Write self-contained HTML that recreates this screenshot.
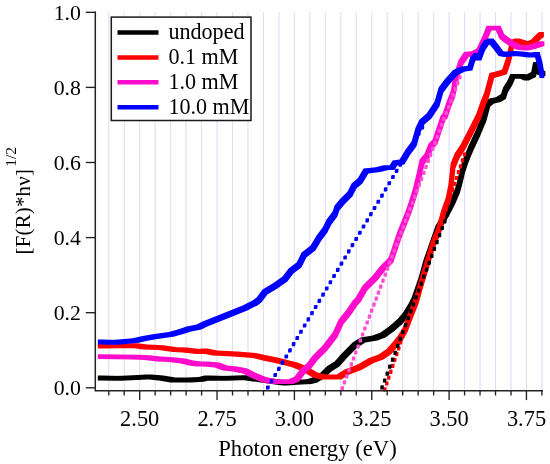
<!DOCTYPE html>
<html><head><meta charset="utf-8"><title>Tauc plot</title>
<style>
html,body{margin:0;padding:0;background:#fff;}
svg{display:block;}
text{font-family:"Liberation Serif",serif;fill:#000;}
.c{fill:none;stroke-linejoin:round;stroke-linecap:butt;stroke-width:4.9;}
.d{fill:none;stroke-width:3.4;stroke-dasharray:3.3 3.9;}
.ax{stroke:#222;stroke-width:1.5;fill:none;}
.tk{stroke:#222;stroke-width:1.35;fill:none;}
.g{stroke:#d4d4fa;stroke-width:1;stroke-dasharray:1 1;}
.g2{stroke:#e8e8fd;stroke-width:1;}
</style></head><body>
<svg width="550" height="464" viewBox="0 0 550 464">
<rect width="550" height="464" fill="#fff"/>
<g class="g2">
<line x1="108.76" y1="12" x2="108.76" y2="390"/>
<line x1="124.23" y1="12" x2="124.23" y2="390"/>
<line x1="139.70" y1="12" x2="139.70" y2="390"/>
<line x1="155.17" y1="12" x2="155.17" y2="390"/>
<line x1="170.64" y1="12" x2="170.64" y2="390"/>
<line x1="186.11" y1="12" x2="186.11" y2="390"/>
<line x1="201.58" y1="12" x2="201.58" y2="390"/>
<line x1="217.05" y1="12" x2="217.05" y2="390"/>
<line x1="232.52" y1="12" x2="232.52" y2="390"/>
<line x1="247.99" y1="12" x2="247.99" y2="390"/>
<line x1="263.46" y1="12" x2="263.46" y2="390"/>
<line x1="278.93" y1="12" x2="278.93" y2="390"/>
<line x1="294.40" y1="12" x2="294.40" y2="390"/>
<line x1="309.87" y1="12" x2="309.87" y2="390"/>
<line x1="325.34" y1="12" x2="325.34" y2="390"/>
<line x1="340.81" y1="12" x2="340.81" y2="390"/>
<line x1="356.28" y1="12" x2="356.28" y2="390"/>
<line x1="371.75" y1="12" x2="371.75" y2="390"/>
<line x1="387.22" y1="12" x2="387.22" y2="390"/>
<line x1="402.69" y1="12" x2="402.69" y2="390"/>
<line x1="418.16" y1="12" x2="418.16" y2="390"/>
<line x1="433.63" y1="12" x2="433.63" y2="390"/>
<line x1="449.10" y1="12" x2="449.10" y2="390"/>
<line x1="464.57" y1="12" x2="464.57" y2="390"/>
<line x1="480.04" y1="12" x2="480.04" y2="390"/>
<line x1="495.51" y1="12" x2="495.51" y2="390"/>
<line x1="510.98" y1="12" x2="510.98" y2="390"/>
<line x1="526.45" y1="12" x2="526.45" y2="390"/>
<line x1="541.92" y1="12" x2="541.92" y2="390"/>
</g>
<g class="g">
<line x1="108.76" y1="12" x2="108.76" y2="390"/>
<line x1="124.23" y1="12" x2="124.23" y2="390"/>
<line x1="139.70" y1="12" x2="139.70" y2="390"/>
<line x1="155.17" y1="12" x2="155.17" y2="390"/>
<line x1="170.64" y1="12" x2="170.64" y2="390"/>
<line x1="186.11" y1="12" x2="186.11" y2="390"/>
<line x1="201.58" y1="12" x2="201.58" y2="390"/>
<line x1="217.05" y1="12" x2="217.05" y2="390"/>
<line x1="232.52" y1="12" x2="232.52" y2="390"/>
<line x1="247.99" y1="12" x2="247.99" y2="390"/>
<line x1="263.46" y1="12" x2="263.46" y2="390"/>
<line x1="278.93" y1="12" x2="278.93" y2="390"/>
<line x1="294.40" y1="12" x2="294.40" y2="390"/>
<line x1="309.87" y1="12" x2="309.87" y2="390"/>
<line x1="325.34" y1="12" x2="325.34" y2="390"/>
<line x1="340.81" y1="12" x2="340.81" y2="390"/>
<line x1="356.28" y1="12" x2="356.28" y2="390"/>
<line x1="371.75" y1="12" x2="371.75" y2="390"/>
<line x1="387.22" y1="12" x2="387.22" y2="390"/>
<line x1="402.69" y1="12" x2="402.69" y2="390"/>
<line x1="418.16" y1="12" x2="418.16" y2="390"/>
<line x1="433.63" y1="12" x2="433.63" y2="390"/>
<line x1="449.10" y1="12" x2="449.10" y2="390"/>
<line x1="464.57" y1="12" x2="464.57" y2="390"/>
<line x1="480.04" y1="12" x2="480.04" y2="390"/>
<line x1="495.51" y1="12" x2="495.51" y2="390"/>
<line x1="510.98" y1="12" x2="510.98" y2="390"/>
<line x1="526.45" y1="12" x2="526.45" y2="390"/>
<line x1="541.92" y1="12" x2="541.92" y2="390"/>
</g>
<path fill="#000" d="M97.8 375.6L102.6 375.6L121.4 376.0L121.4 380.8L116.6 380.8L97.8 380.4ZM116.6 376.0L132.6 375.2L137.4 375.2L137.4 380.0L121.4 380.8L116.6 380.8ZM132.6 375.2L146.6 374.4L151.4 374.4L151.4 379.2L137.4 380.0L132.6 380.0ZM146.6 374.4L151.4 374.4L163.4 375.6L163.4 380.4L158.6 380.4L146.6 379.2ZM158.6 375.6L163.4 375.6L175.4 377.6L175.4 382.4L170.6 382.4L158.6 380.4ZM170.6 377.6L191.4 377.6L191.4 382.4L170.6 382.4ZM186.6 377.6L198.6 377.0L203.4 377.0L203.4 381.8L191.4 382.4L186.6 382.4ZM198.6 377.0L204.6 375.6L209.4 375.6L209.4 380.4L203.4 381.8L198.6 381.8ZM204.6 375.6L209.4 375.6L227.4 376.0L227.4 380.8L222.6 380.8L204.6 380.4ZM222.6 376.0L242.6 375.2L247.4 375.2L247.4 380.0L227.4 380.8L222.6 380.8ZM242.6 375.2L247.4 375.2L257.4 376.6L257.4 381.4L252.6 381.4L242.6 380.0ZM252.6 376.6L257.4 376.6L272.4 378.6L272.4 383.4L267.6 383.4L252.6 381.4ZM267.6 378.6L272.4 378.6L287.4 380.6L287.4 385.4L282.6 385.4L267.6 383.4ZM282.6 380.6L292.6 380.0L297.4 380.0L297.4 384.8L287.4 385.4L282.6 385.4ZM292.6 380.0L306.6 379.2L311.4 379.2L311.4 384.0L297.4 384.8L292.6 384.8ZM306.6 379.2L312.6 377.6L317.4 377.6L317.4 382.4L311.4 384.0L306.6 384.0ZM312.6 377.6L320.6 372.6L325.4 372.6L325.4 377.4L317.4 382.4L312.6 382.4ZM320.6 372.6L326.6 366.6L331.4 366.6L331.4 371.4L325.4 377.4L320.6 377.4ZM326.6 366.6L334.6 361.6L339.4 361.6L339.4 366.4L331.4 371.4L326.6 371.4ZM334.6 361.6L342.6 352.6L347.4 352.6L347.4 357.4L339.4 366.4L334.6 366.4ZM342.6 352.6L352.6 342.6L357.4 342.6L357.4 347.4L347.4 357.4L342.6 357.4ZM352.6 342.6L360.6 337.6L365.4 337.6L365.4 342.4L357.4 347.4L352.6 347.4ZM360.6 337.6L372.6 335.6L377.4 335.6L377.4 340.4L365.4 342.4L360.6 342.4ZM372.6 335.6L380.6 332.6L385.4 332.6L385.4 337.4L377.4 340.4L372.6 340.4ZM380.6 332.6L389.6 326.1L394.4 326.1L394.4 330.9L385.4 337.4L380.6 337.4ZM389.6 326.1L397.6 319.1L402.4 319.1L402.4 323.9L394.4 330.9L389.6 330.9ZM397.6 319.1L403.1 312.6L407.9 312.6L407.9 317.4L402.4 323.9L397.6 323.9ZM403.1 312.6L408.6 303.6L413.4 303.6L413.4 308.4L407.9 317.4L403.1 317.4ZM408.6 303.6L411.6 297.6L416.4 297.6L416.4 302.4L413.4 308.4L408.6 308.4ZM411.6 297.6L418.6 277.6L423.4 277.6L423.4 282.4L416.4 302.4L411.6 302.4ZM418.6 277.6L423.6 259.6L428.4 259.6L428.4 264.4L423.4 282.4L418.6 282.4ZM423.6 259.6L429.6 242.6L434.4 242.6L434.4 247.4L428.4 264.4L423.6 264.4ZM429.6 242.6L435.6 225.6L440.4 225.6L440.4 230.4L434.4 247.4L429.6 247.4ZM435.6 225.6L441.6 215.6L446.4 215.6L446.4 220.4L440.4 230.4L435.6 230.4ZM441.6 215.6L447.1 205.6L451.9 205.6L451.9 210.4L446.4 220.4L441.6 220.4ZM447.1 205.6L450.6 198.6L455.4 198.6L455.4 203.4L451.9 210.4L447.1 210.4ZM450.6 198.6L455.1 188.3L459.9 188.3L459.9 193.1L455.4 203.4L450.6 203.4ZM455.1 188.3L457.9 177.9L462.7 177.9L462.7 182.7L459.9 193.1L455.1 193.1ZM457.9 177.9L460.3 167.6L465.1 167.6L465.1 172.4L462.7 182.7L457.9 182.7ZM460.3 167.6L463.6 157.6L468.4 157.6L468.4 162.4L465.1 172.4L460.3 172.4ZM463.6 157.6L468.6 145.6L473.4 145.6L473.4 150.4L468.4 162.4L463.6 162.4ZM468.6 145.6L475.1 131.6L479.9 131.6L479.9 136.4L473.4 150.4L468.6 150.4ZM475.1 131.6L481.6 116.1L486.4 116.1L486.4 120.9L479.9 136.4L475.1 136.4ZM481.6 116.1L485.5 101.8L490.3 101.8L490.3 106.6L486.4 120.9L481.6 120.9ZM485.5 101.8L489.3 98.6L494.1 98.6L494.1 103.4L490.3 106.6L485.5 106.6ZM489.3 98.6L495.8 97.3L500.6 97.3L500.6 102.1L494.1 103.4L489.3 103.4ZM495.8 97.3L501.0 94.1L505.8 94.1L505.8 98.9L500.6 102.1L495.8 102.1ZM501.0 94.1L503.1 87.6L507.9 87.6L507.9 92.4L505.8 98.9L501.0 98.9ZM503.1 87.6L507.6 80.3L512.4 80.3L512.4 85.1L507.9 92.4L503.1 92.4ZM507.6 80.3L510.3 74.0L515.1 74.0L515.1 78.8L512.4 85.1L507.6 85.1ZM510.3 74.0L525.1 74.0L525.1 78.8L510.3 78.8ZM520.3 74.0L525.1 74.0L528.8 75.8L528.8 80.6L524.0 80.6L520.3 78.8ZM524.0 75.8L531.2 72.1L536.0 72.1L536.0 76.9L528.8 80.6L524.0 80.6ZM531.2 72.1L533.1 62.1L537.9 62.1L537.9 66.9L536.0 76.9L531.2 76.9ZM533.1 62.1L537.9 62.1L541.4 69.4L541.4 74.2L536.6 74.2L533.1 66.9ZM536.6 69.4L541.4 69.4L545.4 71.2L545.4 76.0L540.6 76.0L536.6 74.2Z"/>
<path fill="#f00" d="M97.8 343.6L132.6 343.2L137.4 343.2L137.4 348.0L102.6 348.4L97.8 348.4ZM132.6 343.2L137.4 343.2L147.4 344.6L147.4 349.4L142.6 349.4L132.6 348.0ZM142.6 344.6L147.4 344.6L163.4 345.2L163.4 350.0L158.6 350.0L142.6 349.4ZM158.6 345.2L163.4 345.2L177.4 347.2L177.4 352.0L172.6 352.0L158.6 350.0ZM172.6 347.2L177.4 347.2L187.4 347.6L187.4 352.4L182.6 352.4L172.6 352.0ZM182.6 347.6L187.4 347.6L201.4 349.2L201.4 354.0L196.6 354.0L182.6 352.4ZM196.6 349.2L202.6 348.6L207.4 348.6L207.4 353.4L201.4 354.0L196.6 354.0ZM202.6 348.6L207.4 348.6L217.4 350.6L217.4 355.4L212.6 355.4L202.6 353.4ZM212.6 350.6L217.4 350.6L237.4 351.6L237.4 356.4L232.6 356.4L212.6 355.4ZM232.6 351.6L237.4 351.6L257.4 353.2L257.4 358.0L252.6 358.0L232.6 356.4ZM252.6 353.2L257.4 353.2L267.4 355.6L267.4 360.4L262.6 360.4L252.6 358.0ZM262.6 355.6L267.4 355.6L277.4 357.6L277.4 362.4L272.6 362.4L262.6 360.4ZM272.6 357.6L277.4 357.6L287.4 360.0L287.4 364.8L282.6 364.8L272.6 362.4ZM282.6 360.0L287.4 360.0L297.4 362.6L297.4 367.4L292.6 367.4L282.6 364.8ZM292.6 362.6L297.4 362.6L307.4 366.6L307.4 371.4L302.6 371.4L292.6 367.4ZM302.6 366.6L307.4 366.6L317.4 372.6L317.4 377.4L312.6 377.4L302.6 371.4ZM312.6 372.6L317.4 372.6L325.4 374.6L325.4 379.4L320.6 379.4L312.6 377.4ZM320.6 374.6L341.4 374.6L341.4 379.4L320.6 379.4ZM336.6 374.6L344.6 369.6L349.4 369.6L349.4 374.4L341.4 379.4L336.6 379.4ZM344.6 369.6L352.6 366.6L357.4 366.6L357.4 371.4L349.4 374.4L344.6 374.4ZM352.6 366.6L357.6 364.6L362.4 364.6L362.4 369.4L357.4 371.4L352.6 371.4ZM357.6 364.6L368.9 358.1L373.7 358.1L373.7 362.9L362.4 369.4L357.6 369.4ZM368.9 358.1L378.6 354.6L383.4 354.6L383.4 359.4L373.7 362.9L368.9 362.9ZM378.6 354.6L386.6 349.1L391.4 349.1L391.4 353.9L383.4 359.4L378.6 359.4ZM386.6 349.1L392.3 342.6L397.1 342.6L397.1 347.4L391.4 353.9L386.6 353.9ZM392.3 342.6L398.0 335.6L402.8 335.6L402.8 340.4L397.1 347.4L392.3 347.4ZM398.0 335.6L402.8 327.3L407.6 327.3L407.6 332.1L402.8 340.4L398.0 340.4ZM402.8 327.3L406.1 318.1L410.9 318.1L410.9 322.9L407.6 332.1L402.8 332.1ZM406.1 318.1L411.1 305.6L415.9 305.6L415.9 310.4L410.9 322.9L406.1 322.9ZM411.1 305.6L414.1 297.6L418.9 297.6L418.9 302.4L415.9 310.4L411.1 310.4ZM414.1 297.6L418.6 281.6L423.4 281.6L423.4 286.4L418.9 302.4L414.1 302.4ZM418.6 281.6L424.6 261.6L429.4 261.6L429.4 266.4L423.4 286.4L418.6 286.4ZM424.6 261.6L430.6 241.6L435.4 241.6L435.4 246.4L429.4 266.4L424.6 266.4ZM430.6 241.6L436.6 227.1L441.4 227.1L441.4 231.9L435.4 246.4L430.6 246.4ZM436.6 227.1L441.2 210.3L446.0 210.3L446.0 215.1L441.4 231.9L436.6 231.9ZM441.2 210.3L445.8 197.4L450.6 197.4L450.6 202.2L446.0 215.1L441.2 215.1ZM445.8 197.4L448.4 184.4L453.2 184.4L453.2 189.2L450.6 202.2L445.8 202.2ZM448.4 184.4L449.6 173.6L454.4 173.6L454.4 178.4L453.2 189.2L448.4 189.2ZM449.6 173.6L450.6 163.6L455.4 163.6L455.4 168.4L454.4 178.4L449.6 178.4ZM450.6 163.6L454.6 153.6L459.4 153.6L459.4 158.4L455.4 168.4L450.6 168.4ZM454.6 153.6L460.6 144.6L465.4 144.6L465.4 149.4L459.4 158.4L454.6 158.4ZM460.6 144.6L469.9 126.4L474.7 126.4L474.7 131.2L465.4 149.4L460.6 149.4ZM469.9 126.4L476.4 113.5L481.2 113.5L481.2 118.3L474.7 131.2L469.9 131.2ZM476.4 113.5L480.9 100.6L485.7 100.6L485.7 105.4L481.2 118.3L476.4 118.3ZM480.9 100.6L484.2 92.6L489.0 92.6L489.0 97.4L485.7 105.4L480.9 105.4ZM484.2 92.6L486.1 85.6L490.9 85.6L490.9 90.4L489.0 97.4L484.2 97.4ZM486.1 85.6L489.4 73.1L494.2 73.1L494.2 77.9L490.9 90.4L486.1 90.4ZM489.4 73.1L496.6 71.2L501.4 71.2L501.4 76.0L494.2 77.9L489.4 77.9ZM496.6 71.2L502.1 69.4L506.9 69.4L506.9 74.2L501.4 76.0L496.6 76.0ZM502.1 69.4L505.8 58.5L510.6 58.5L510.6 63.3L506.9 74.2L502.1 74.2ZM505.8 58.5L508.5 47.6L513.3 47.6L513.3 52.4L510.6 63.3L505.8 63.3ZM508.5 47.6L509.4 40.3L514.2 40.3L514.2 45.1L513.3 52.4L508.5 52.4ZM509.4 40.3L514.9 38.5L519.7 38.5L519.7 43.3L514.2 45.1L509.4 45.1ZM514.9 38.5L519.7 38.5L525.1 40.3L525.1 45.1L520.3 45.1L514.9 43.3ZM520.3 40.3L525.1 40.3L530.6 42.1L530.6 46.9L525.8 46.9L520.3 45.1ZM525.8 42.1L531.2 39.4L536.0 39.4L536.0 44.2L530.6 46.9L525.8 46.9ZM531.2 39.4L536.6 34.0L541.4 34.0L541.4 38.8L536.0 44.2L531.2 44.2ZM536.6 34.0L539.1 32.1L543.9 32.1L543.9 36.9L541.4 38.8L536.6 38.8Z"/>
<path fill="#ff0ccc" d="M97.8 354.2L102.6 354.2L137.4 354.8L137.4 359.6L132.6 359.6L97.8 359.0ZM132.6 354.8L137.4 354.8L149.4 355.2L149.4 360.0L144.6 360.0L132.6 359.6ZM144.6 355.2L149.4 355.2L161.4 356.6L161.4 361.4L156.6 361.4L144.6 360.0ZM156.6 356.6L161.4 356.6L173.4 357.2L173.4 362.0L168.6 362.0L156.6 361.4ZM168.6 357.2L173.4 357.2L185.4 358.6L185.4 363.4L180.6 363.4L168.6 362.0ZM180.6 358.6L185.4 358.6L193.4 360.6L193.4 365.4L188.6 365.4L180.6 363.4ZM188.6 360.6L193.4 360.6L201.4 361.6L201.4 366.4L196.6 366.4L188.6 365.4ZM196.6 361.6L207.4 361.6L207.4 366.4L196.6 366.4ZM202.6 361.6L207.4 361.6L219.4 362.6L219.4 367.4L214.6 367.4L202.6 366.4ZM214.6 362.6L219.4 362.6L227.4 365.6L227.4 370.4L222.6 370.4L214.6 367.4ZM222.6 365.6L227.4 365.6L237.4 366.6L237.4 371.4L232.6 371.4L222.6 370.4ZM232.6 366.6L237.4 366.6L247.4 368.6L247.4 373.4L242.6 373.4L232.6 371.4ZM242.6 368.6L247.4 368.6L257.4 373.6L257.4 378.4L252.6 378.4L242.6 373.4ZM252.6 373.6L257.4 373.6L267.4 377.6L267.4 382.4L262.6 382.4L252.6 378.4ZM262.6 377.6L267.4 377.6L277.4 379.2L277.4 384.0L272.6 384.0L262.6 382.4ZM272.6 379.2L293.4 379.2L293.4 384.0L272.6 384.0ZM288.6 379.2L294.6 376.6L299.4 376.6L299.4 381.4L293.4 384.0L288.6 384.0ZM294.6 376.6L300.6 368.6L305.4 368.6L305.4 373.4L299.4 381.4L294.6 381.4ZM300.6 368.6L306.6 363.6L311.4 363.6L311.4 368.4L305.4 373.4L300.6 373.4ZM306.6 363.6L312.6 355.6L317.4 355.6L317.4 360.4L311.4 368.4L306.6 368.4ZM312.6 355.6L322.6 345.6L327.4 345.6L327.4 350.4L317.4 360.4L312.6 360.4ZM322.6 345.6L332.6 332.6L337.4 332.6L337.4 337.4L327.4 350.4L322.6 350.4ZM332.6 332.6L338.6 319.6L343.4 319.6L343.4 324.4L337.4 337.4L332.6 337.4ZM338.6 319.6L346.6 309.6L351.4 309.6L351.4 314.4L343.4 324.4L338.6 324.4ZM346.6 309.6L352.6 300.6L357.4 300.6L357.4 305.4L351.4 314.4L346.6 314.4ZM352.6 300.6L355.6 297.6L360.4 297.6L360.4 302.4L357.4 305.4L352.6 305.4ZM355.6 297.6L362.6 285.6L367.4 285.6L367.4 290.4L360.4 302.4L355.6 302.4ZM362.6 285.6L372.6 275.6L377.4 275.6L377.4 280.4L367.4 290.4L362.6 290.4ZM372.6 275.6L380.6 265.6L385.4 265.6L385.4 270.4L377.4 280.4L372.6 280.4ZM380.6 265.6L388.6 257.6L393.4 257.6L393.4 262.4L385.4 270.4L380.6 270.4ZM388.6 257.6L392.6 245.6L397.4 245.6L397.4 250.4L393.4 262.4L388.6 262.4ZM392.6 245.6L396.6 233.6L401.4 233.6L401.4 238.4L397.4 250.4L392.6 250.4ZM396.6 233.6L400.6 223.6L405.4 223.6L405.4 228.4L401.4 238.4L396.6 238.4ZM400.6 223.6L404.6 213.6L409.4 213.6L409.4 218.4L405.4 228.4L400.6 228.4ZM404.6 213.6L407.6 205.6L412.4 205.6L412.4 210.4L409.4 218.4L404.6 218.4ZM407.6 205.6L412.6 189.6L417.4 189.6L417.4 194.4L412.4 210.4L407.6 210.4ZM412.6 189.6L416.6 173.6L421.4 173.6L421.4 178.4L417.4 194.4L412.6 194.4ZM416.6 173.6L419.6 159.6L424.4 159.6L424.4 164.4L421.4 178.4L416.6 178.4ZM419.6 159.6L424.6 153.6L429.4 153.6L429.4 158.4L424.4 164.4L419.6 164.4ZM424.6 153.6L428.6 143.6L433.4 143.6L433.4 148.4L429.4 158.4L424.6 158.4ZM428.6 143.6L432.6 139.6L437.4 139.6L437.4 144.4L433.4 148.4L428.6 148.4ZM432.6 139.6L436.6 127.6L441.4 127.6L441.4 132.4L437.4 144.4L432.6 144.4ZM436.6 127.6L440.6 115.6L445.4 115.6L445.4 120.4L441.4 132.4L436.6 132.4ZM440.6 115.6L442.6 113.6L447.4 113.6L447.4 118.4L445.4 120.4L440.6 120.4ZM442.6 113.6L446.6 101.6L451.4 101.6L451.4 106.4L447.4 118.4L442.6 118.4ZM446.6 101.6L450.6 91.6L455.4 91.6L455.4 96.4L451.4 106.4L446.6 106.4ZM450.6 91.6L452.6 79.6L457.4 79.6L457.4 84.4L455.4 96.4L450.6 96.4ZM452.6 79.6L454.9 71.2L459.7 71.2L459.7 76.0L457.4 84.4L452.6 84.4ZM454.9 71.2L458.5 60.3L463.3 60.3L463.3 65.1L459.7 76.0L454.9 76.0ZM458.5 60.3L464.0 52.1L468.8 52.1L468.8 56.9L463.3 65.1L458.5 65.1ZM464.0 52.1L471.2 51.2L476.0 51.2L476.0 56.0L468.8 56.9L464.0 56.9ZM471.2 51.2L476.6 48.5L481.4 48.5L481.4 53.3L476.0 56.0L471.2 56.0ZM476.6 48.5L482.1 36.7L486.9 36.7L486.9 41.5L481.4 53.3L476.6 53.3ZM482.1 36.7L486.6 25.8L491.4 25.8L491.4 30.6L486.9 41.5L482.1 41.5ZM486.6 25.8L500.6 25.8L500.6 30.6L486.6 30.6ZM495.8 25.8L500.6 25.8L504.2 34.0L504.2 38.8L499.4 38.8L495.8 30.6ZM499.4 34.0L504.2 34.0L508.8 37.6L508.8 42.4L504.0 42.4L499.4 38.8ZM504.0 37.6L508.8 37.6L514.2 41.2L514.2 46.0L509.4 46.0L504.0 42.4ZM509.4 41.2L514.2 41.2L521.4 44.9L521.4 49.7L516.6 49.7L509.4 46.0ZM516.6 44.9L521.4 44.9L528.8 45.8L528.8 50.6L524.0 50.6L516.6 49.7ZM524.0 45.8L531.2 44.0L536.0 44.0L536.0 48.8L528.8 50.6L524.0 50.6ZM531.2 44.0L536.6 42.1L541.4 42.1L541.4 46.9L536.0 48.8L531.2 48.8ZM536.6 42.1L539.6 41.2L544.4 41.2L544.4 46.0L541.4 46.9L536.6 46.9Z"/>
<path fill="#00f" d="M97.8 339.6L102.6 339.6L117.4 340.0L117.4 344.8L112.6 344.8L97.8 344.4ZM112.6 340.0L132.6 338.2L137.4 338.2L137.4 343.0L117.4 344.8L112.6 344.8ZM132.6 338.2L142.6 336.0L147.4 336.0L147.4 340.8L137.4 343.0L132.6 343.0ZM142.6 336.0L152.6 334.2L157.4 334.2L157.4 339.0L147.4 340.8L142.6 340.8ZM152.6 334.2L168.6 332.0L173.4 332.0L173.4 336.8L157.4 339.0L152.6 339.0ZM168.6 332.0L178.6 329.2L183.4 329.2L183.4 334.0L173.4 336.8L168.6 336.8ZM178.6 329.2L186.6 326.6L191.4 326.6L191.4 331.4L183.4 334.0L178.6 334.0ZM186.6 326.6L196.6 324.6L201.4 324.6L201.4 329.4L191.4 331.4L186.6 331.4ZM196.6 324.6L202.6 321.6L207.4 321.6L207.4 326.4L201.4 329.4L196.6 329.4ZM202.6 321.6L212.6 317.6L217.4 317.6L217.4 322.4L207.4 326.4L202.6 326.4ZM212.6 317.6L222.6 313.6L227.4 313.6L227.4 318.4L217.4 322.4L212.6 322.4ZM222.6 313.6L232.6 309.6L237.4 309.6L237.4 314.4L227.4 318.4L222.6 318.4ZM232.6 309.6L242.6 305.6L247.4 305.6L247.4 310.4L237.4 314.4L232.6 314.4ZM242.6 305.6L252.6 300.6L257.4 300.6L257.4 305.4L247.4 310.4L242.6 310.4ZM252.6 300.6L256.6 297.6L261.4 297.6L261.4 302.4L257.4 305.4L252.6 305.4ZM256.6 297.6L262.6 289.6L267.4 289.6L267.4 294.4L261.4 302.4L256.6 302.4ZM262.6 289.6L272.6 283.6L277.4 283.6L277.4 288.4L267.4 294.4L262.6 294.4ZM272.6 283.6L282.6 276.6L287.4 276.6L287.4 281.4L277.4 288.4L272.6 288.4ZM282.6 276.6L288.6 268.6L293.4 268.6L293.4 273.4L287.4 281.4L282.6 281.4ZM288.6 268.6L296.6 262.6L301.4 262.6L301.4 267.4L293.4 273.4L288.6 273.4ZM296.6 262.6L301.6 252.6L306.4 252.6L306.4 257.4L301.4 267.4L296.6 267.4ZM301.6 252.6L310.6 245.6L315.4 245.6L315.4 250.4L306.4 257.4L301.6 257.4ZM310.6 245.6L316.6 235.6L321.4 235.6L321.4 240.4L315.4 250.4L310.6 250.4ZM316.6 235.6L322.6 227.6L327.4 227.6L327.4 232.4L321.4 240.4L316.6 240.4ZM322.6 227.6L326.6 219.6L331.4 219.6L331.4 224.4L327.4 232.4L322.6 232.4ZM326.6 219.6L332.6 211.6L337.4 211.6L337.4 216.4L331.4 224.4L326.6 224.4ZM332.6 211.6L334.6 205.6L339.4 205.6L339.4 210.4L337.4 216.4L332.6 216.4ZM334.6 205.6L339.6 199.6L344.4 199.6L344.4 204.4L339.4 210.4L334.6 210.4ZM339.6 199.6L347.6 191.6L352.4 191.6L352.4 196.4L344.4 204.4L339.6 204.4ZM347.6 191.6L351.6 183.6L356.4 183.6L356.4 188.4L352.4 196.4L347.6 196.4ZM351.6 183.6L357.6 178.6L362.4 178.6L362.4 183.4L356.4 188.4L351.6 188.4ZM357.6 178.6L363.6 168.6L368.4 168.6L368.4 173.4L362.4 183.4L357.6 183.4ZM363.6 168.6L375.6 167.2L380.4 167.2L380.4 172.0L368.4 173.4L363.6 173.4ZM375.6 167.2L383.6 165.2L388.4 165.2L388.4 170.0L380.4 172.0L375.6 172.0ZM383.6 165.2L394.4 165.2L394.4 170.0L383.6 170.0ZM389.6 165.2L392.6 160.6L397.4 160.6L397.4 165.4L394.4 170.0L389.6 170.0ZM392.6 160.6L399.6 159.6L404.4 159.6L404.4 164.4L397.4 165.4L392.6 165.4ZM399.6 159.6L405.6 149.6L410.4 149.6L410.4 154.4L404.4 164.4L399.6 164.4ZM405.6 149.6L411.6 141.6L416.4 141.6L416.4 146.4L410.4 154.4L405.6 154.4ZM411.6 141.6L415.6 127.6L420.4 127.6L420.4 132.4L416.4 146.4L411.6 146.4ZM415.6 127.6L419.6 119.6L424.4 119.6L424.4 124.4L420.4 132.4L415.6 132.4ZM419.6 119.6L426.6 113.6L431.4 113.6L431.4 118.4L424.4 124.4L419.6 124.4ZM426.6 113.6L434.6 101.6L439.4 101.6L439.4 106.4L431.4 118.4L426.6 118.4ZM434.6 101.6L438.6 87.6L443.4 87.6L443.4 92.4L439.4 106.4L434.6 106.4ZM438.6 87.6L444.6 79.6L449.4 79.6L449.4 84.4L443.4 92.4L438.6 92.4ZM444.6 79.6L453.1 70.1L457.9 70.1L457.9 74.9L449.4 84.4L444.6 84.4ZM453.1 70.1L460.3 66.7L465.1 66.7L465.1 71.5L457.9 74.9L453.1 74.9ZM460.3 66.7L467.6 65.8L472.4 65.8L472.4 70.6L465.1 71.5L460.3 71.5ZM467.6 65.8L470.3 56.7L475.1 56.7L475.1 61.5L472.4 70.6L467.6 70.6ZM470.3 56.7L474.0 53.1L478.8 53.1L478.8 57.9L475.1 61.5L470.3 61.5ZM474.0 53.1L478.8 53.1L481.4 55.8L481.4 60.6L476.6 60.6L474.0 57.9ZM476.6 55.8L480.3 45.8L485.1 45.8L485.1 50.6L481.4 60.6L476.6 60.6ZM480.3 45.8L484.0 40.3L488.8 40.3L488.8 45.1L485.1 50.6L480.3 50.6ZM484.0 40.3L488.6 38.5L493.4 38.5L493.4 43.3L488.8 45.1L484.0 45.1ZM488.6 38.5L493.4 38.5L497.9 44.0L497.9 48.8L493.1 48.8L488.6 43.3ZM493.1 44.0L497.9 44.0L503.4 51.2L503.4 56.0L498.6 56.0L493.1 48.8ZM498.6 51.2L503.4 51.2L508.8 52.1L508.8 56.9L504.0 56.9L498.6 56.0ZM504.0 52.1L511.2 50.9L516.0 50.9L516.0 55.7L508.8 56.9L504.0 56.9ZM511.2 50.9L516.0 50.9L525.1 51.8L525.1 56.6L520.3 56.6L511.2 55.7ZM520.3 51.8L525.1 51.8L532.4 52.7L532.4 57.5L527.6 57.5L520.3 56.6ZM527.6 52.7L534.9 52.1L539.7 52.1L539.7 56.9L532.4 57.5L527.6 57.5ZM534.9 52.1L539.7 52.1L542.4 62.1L542.4 66.9L537.6 66.9L534.9 56.9ZM537.6 62.1L542.4 62.1L544.4 73.1L544.4 77.9L539.6 77.9L537.6 66.9Z"/>
<path fill="#00f" d="M266.0 386.5L266.7 385.4L269.7 385.4L269.7 388.4L269.0 389.5L266.0 389.5ZM269.7 380.3L270.3 379.2L273.3 379.2L273.3 382.2L272.7 383.3L269.7 383.3ZM273.4 374.1L274.0 373.0L277.0 373.0L277.0 376.0L276.4 377.1L273.4 377.1ZM277.0 367.9L277.7 366.8L280.7 366.8L280.7 369.8L280.0 370.9L277.0 370.9ZM280.7 361.8L281.4 360.6L284.4 360.6L284.4 363.6L283.7 364.8L280.7 364.8ZM284.4 355.6L285.1 354.4L288.1 354.4L288.1 357.4L287.4 358.6L284.4 358.6ZM288.1 349.4L288.8 348.2L291.8 348.2L291.8 351.2L291.1 352.4L288.1 352.4ZM291.8 343.2L292.4 342.1L295.4 342.1L295.4 345.1L294.8 346.2L291.8 346.2ZM295.4 337.0L296.1 335.9L299.1 335.9L299.1 338.9L298.4 340.0L295.4 340.0ZM299.1 330.8L299.8 329.7L302.8 329.7L302.8 332.7L302.1 333.8L299.1 333.8ZM302.8 324.6L303.5 323.5L306.5 323.5L306.5 326.5L305.8 327.6L302.8 327.6ZM306.5 318.4L307.1 317.3L310.1 317.3L310.1 320.3L309.5 321.4L306.5 321.4ZM310.2 312.2L310.8 311.1L313.8 311.1L313.8 314.1L313.2 315.2L310.2 315.2ZM313.8 306.1L314.5 304.9L317.5 304.9L317.5 307.9L316.8 309.1L313.8 309.1ZM317.5 299.9L318.2 298.8L321.2 298.8L321.2 301.8L320.5 302.9L317.5 302.9ZM321.2 293.7L321.9 292.6L324.9 292.6L324.9 295.6L324.2 296.7L321.2 296.7ZM324.9 287.5L325.6 286.4L328.6 286.4L328.6 289.4L327.9 290.5L324.9 290.5ZM328.6 281.3L329.2 280.2L332.2 280.2L332.2 283.2L331.6 284.3L328.6 284.3ZM332.2 275.1L332.9 274.0L335.9 274.0L335.9 277.0L335.2 278.1L332.2 278.1ZM335.9 268.9L336.6 267.8L339.6 267.8L339.6 270.8L338.9 271.9L335.9 271.9ZM339.6 262.7L340.3 261.6L343.3 261.6L343.3 264.6L342.6 265.7L339.6 265.7ZM343.3 256.5L343.9 255.4L346.9 255.4L346.9 258.4L346.3 259.5L343.3 259.5ZM347.0 250.4L347.6 249.2L350.6 249.2L350.6 252.2L350.0 253.4L347.0 253.4ZM350.6 244.2L351.3 243.1L354.3 243.1L354.3 246.1L353.6 247.2L350.6 247.2ZM354.3 238.0L355.0 236.9L358.0 236.9L358.0 239.9L357.3 241.0L354.3 241.0ZM358.0 231.8L358.7 230.7L361.7 230.7L361.7 233.7L361.0 234.8L358.0 234.8ZM361.7 225.6L362.4 224.5L365.4 224.5L365.4 227.5L364.7 228.6L361.7 228.6ZM365.4 219.4L366.0 218.3L369.0 218.3L369.0 221.3L368.4 222.4L365.4 222.4ZM369.1 213.2L369.7 212.1L372.7 212.1L372.7 215.1L372.1 216.2L369.1 216.2ZM372.7 207.0L373.4 205.9L376.4 205.9L376.4 208.9L375.7 210.0L372.7 210.0ZM376.4 200.8L377.1 199.7L380.1 199.7L380.1 202.7L379.4 203.8L376.4 203.8ZM380.1 194.7L380.8 193.5L383.8 193.5L383.8 196.5L383.1 197.7L380.1 197.7ZM383.8 188.5L384.4 187.3L387.4 187.3L387.4 190.3L386.8 191.5L383.8 191.5ZM387.4 182.3L388.1 181.2L391.1 181.2L391.1 184.2L390.4 185.3L387.4 185.3ZM391.1 176.1L391.8 175.0L394.8 175.0L394.8 178.0L394.1 179.1L391.1 179.1ZM394.8 169.9L395.5 168.8L398.5 168.8L398.5 171.8L397.8 172.9L394.8 172.9ZM398.5 163.7L399.1 162.6L402.1 162.6L402.1 165.6L401.5 166.7L398.5 166.7ZM402.2 157.5L402.8 156.4L405.8 156.4L405.8 159.4L405.2 160.5L402.2 160.5ZM405.9 151.3L406.5 150.2L409.5 150.2L409.5 153.2L408.9 154.3L405.9 154.3ZM409.5 145.2L410.2 144.0L413.2 144.0L413.2 147.0L412.5 148.2L409.5 148.2ZM413.2 139.0L413.9 137.8L416.9 137.8L416.9 140.8L416.2 142.0L413.2 142.0ZM416.9 132.8L417.6 131.7L420.6 131.7L420.6 134.7L419.9 135.8L416.9 135.8ZM420.6 126.6L421.2 125.5L424.2 125.5L424.2 128.5L423.6 129.6L420.6 129.6Z"/>
<path fill="#ff4fd0" d="M340.5 387.5L341.0 386.3L344.0 386.3L344.0 389.3L343.5 390.5L340.5 390.5ZM342.8 381.5L343.2 380.3L346.2 380.3L346.2 383.3L345.8 384.5L342.8 384.5ZM345.0 375.5L345.5 374.3L348.5 374.3L348.5 377.3L348.0 378.5L345.0 378.5ZM347.3 369.5L347.8 368.3L350.8 368.3L350.8 371.3L350.3 372.5L347.3 372.5ZM349.6 363.6L350.0 362.3L353.0 362.3L353.0 365.3L352.6 366.6L349.6 366.6ZM351.8 357.6L352.3 356.4L355.3 356.4L355.3 359.4L354.8 360.6L351.8 360.6ZM354.1 351.6L354.5 350.4L357.5 350.4L357.5 353.4L357.1 354.6L354.1 354.6ZM356.4 345.6L356.8 344.4L359.8 344.4L359.8 347.4L359.4 348.6L356.4 348.6ZM358.6 339.6L359.1 338.4L362.1 338.4L362.1 341.4L361.6 342.6L358.6 342.6ZM360.9 333.6L361.3 332.4L364.3 332.4L364.3 335.4L363.9 336.6L360.9 336.6ZM363.1 327.6L363.6 326.4L366.6 326.4L366.6 329.4L366.1 330.6L363.1 330.6ZM365.4 321.6L365.9 320.4L368.9 320.4L368.9 323.4L368.4 324.6L365.4 324.6ZM367.7 315.7L368.1 314.4L371.1 314.4L371.1 317.4L370.7 318.7L367.7 318.7ZM369.9 309.7L370.4 308.5L373.4 308.5L373.4 311.5L372.9 312.7L369.9 312.7ZM372.2 303.7L372.7 302.5L375.7 302.5L375.7 305.5L375.2 306.7L372.2 306.7ZM374.5 297.7L374.9 296.5L377.9 296.5L377.9 299.5L377.5 300.7L374.5 300.7ZM376.7 291.7L377.2 290.5L380.2 290.5L380.2 293.5L379.7 294.7L376.7 294.7ZM379.0 285.7L379.4 284.5L382.4 284.5L382.4 287.5L382.0 288.7L379.0 288.7ZM381.2 279.8L381.7 278.5L384.7 278.5L384.7 281.5L384.2 282.8L381.2 282.8ZM383.5 273.8L384.0 272.6L387.0 272.6L387.0 275.6L386.5 276.8L383.5 276.8ZM385.8 267.8L386.2 266.6L389.2 266.6L389.2 269.6L388.8 270.8L385.8 270.8ZM388.0 261.8L388.5 260.6L391.5 260.6L391.5 263.6L391.0 264.8L388.0 264.8ZM390.3 255.8L390.8 254.6L393.8 254.6L393.8 257.6L393.3 258.8L390.3 258.8ZM392.6 249.8L393.0 248.6L396.0 248.6L396.0 251.6L395.6 252.8L392.6 252.8ZM394.8 243.8L395.3 242.6L398.3 242.6L398.3 245.6L397.8 246.8L394.8 246.8ZM397.1 237.8L397.6 236.6L400.6 236.6L400.6 239.6L400.1 240.8L397.1 240.8ZM399.4 231.9L399.8 230.6L402.8 230.6L402.8 233.6L402.4 234.9L399.4 234.9ZM401.6 225.9L402.1 224.7L405.1 224.7L405.1 227.7L404.6 228.9L401.6 228.9ZM403.9 219.9L404.4 218.7L407.4 218.7L407.4 221.7L406.9 222.9L403.9 222.9ZM406.2 213.9L406.6 212.7L409.6 212.7L409.6 215.7L409.2 216.9L406.2 216.9ZM408.4 207.9L408.9 206.7L411.9 206.7L411.9 209.7L411.4 210.9L408.4 210.9ZM410.7 201.9L411.1 200.7L414.1 200.7L414.1 203.7L413.7 204.9L410.7 204.9ZM412.9 195.9L413.4 194.7L416.4 194.7L416.4 197.7L415.9 198.9L412.9 198.9ZM415.2 190.0L415.7 188.7L418.7 188.7L418.7 191.7L418.2 193.0L415.2 193.0ZM417.5 184.0L417.9 182.8L420.9 182.8L420.9 185.8L420.5 187.0L417.5 187.0ZM419.7 178.0L420.2 176.8L423.2 176.8L423.2 179.8L422.7 181.0L419.7 181.0ZM422.0 172.0L422.5 170.8L425.5 170.8L425.5 173.8L425.0 175.0L422.0 175.0ZM424.3 166.0L424.7 164.8L427.7 164.8L427.7 167.8L427.3 169.0L424.3 169.0ZM426.5 160.0L427.0 158.8L430.0 158.8L430.0 161.8L429.5 163.0L426.5 163.0ZM428.8 154.0L429.3 152.8L432.3 152.8L432.3 155.8L431.8 157.0L428.8 157.0ZM431.1 148.1L431.5 146.8L434.5 146.8L434.5 149.8L434.1 151.1L431.1 151.1ZM433.3 142.1L433.8 140.8L436.8 140.8L436.8 143.8L436.3 145.1L433.3 145.1ZM435.6 136.1L436.1 134.9L439.1 134.9L439.1 137.9L438.6 139.1L435.6 139.1ZM437.9 130.1L438.3 128.9L441.3 128.9L441.3 131.9L440.9 133.1L437.9 133.1ZM440.1 124.1L440.6 122.9L443.6 122.9L443.6 125.9L443.1 127.1L440.1 127.1ZM442.4 118.1L442.8 116.9L445.8 116.9L445.8 119.9L445.4 121.1L442.4 121.1ZM444.6 112.1L445.1 110.9L448.1 110.9L448.1 113.9L447.6 115.1L444.6 115.1ZM446.9 106.2L447.4 104.9L450.4 104.9L450.4 107.9L449.9 109.2L446.9 109.2ZM449.2 100.2L449.6 99.0L452.6 99.0L452.6 102.0L452.2 103.2L449.2 103.2ZM451.4 94.2L451.9 93.0L454.9 93.0L454.9 96.0L454.4 97.2L451.4 97.2ZM453.7 88.2L454.2 87.0L457.2 87.0L457.2 90.0L456.7 91.2L453.7 91.2ZM456.0 82.2L456.4 81.0L459.4 81.0L459.4 84.0L459.0 85.2L456.0 85.2ZM458.2 76.2L458.5 75.5L461.5 75.5L461.5 78.5L461.2 79.2L458.2 79.2Z"/>
<path fill="#f00" d="M383.1 388.5L383.5 387.3L386.5 387.3L386.5 390.3L386.1 391.5L383.1 391.5ZM385.1 382.6L385.5 381.4L388.5 381.4L388.5 384.4L388.1 385.6L385.1 385.6ZM387.1 376.8L387.5 375.5L390.5 375.5L390.5 378.5L390.1 379.8L387.1 379.8ZM389.1 370.9L389.5 369.6L392.5 369.6L392.5 372.6L392.1 373.9L389.1 373.9ZM391.1 365.0L391.5 363.8L394.5 363.8L394.5 366.8L394.1 368.0L391.1 368.0ZM393.1 359.1L393.5 357.9L396.5 357.9L396.5 360.9L396.1 362.1L393.1 362.1ZM395.1 353.3L395.5 352.0L398.5 352.0L398.5 355.0L398.1 356.3L395.1 356.3ZM397.0 347.4L397.5 346.2L400.5 346.2L400.5 349.2L400.0 350.4L397.0 350.4ZM399.0 341.5L399.4 340.3L402.4 340.3L402.4 343.3L402.0 344.5L399.0 344.5ZM401.0 335.7L401.4 334.4L404.4 334.4L404.4 337.4L404.0 338.7L401.0 338.7ZM403.0 329.8L403.4 328.6L406.4 328.6L406.4 331.6L406.0 332.8L403.0 332.8ZM405.0 323.9L405.4 322.7L408.4 322.7L408.4 325.7L408.0 326.9L405.0 326.9ZM407.0 318.0L407.4 316.8L410.4 316.8L410.4 319.8L410.0 321.0L407.0 321.0ZM409.0 312.2L409.4 310.9L412.4 310.9L412.4 313.9L412.0 315.2L409.0 315.2ZM411.0 306.3L411.4 305.1L414.4 305.1L414.4 308.1L414.0 309.3L411.0 309.3ZM413.0 300.4L413.4 299.2L416.4 299.2L416.4 302.2L416.0 303.4L413.0 303.4ZM415.0 294.6L415.4 293.3L418.4 293.3L418.4 296.3L418.0 297.6L415.0 297.6ZM416.9 288.7L417.4 287.4L420.4 287.4L420.4 290.4L419.9 291.7L416.9 291.7ZM418.9 282.8L419.4 281.6L422.4 281.6L422.4 284.6L421.9 285.8L418.9 285.8ZM420.9 276.9L421.4 275.7L424.4 275.7L424.4 278.7L423.9 279.9L420.9 279.9ZM422.9 271.1L423.4 269.8L426.4 269.8L426.4 272.8L425.9 274.1L422.9 274.1ZM424.9 265.2L425.3 264.0L428.3 264.0L428.3 267.0L427.9 268.2L424.9 268.2ZM426.9 259.3L427.3 258.1L430.3 258.1L430.3 261.1L429.9 262.3L426.9 262.3ZM428.9 253.5L429.3 252.2L432.3 252.2L432.3 255.2L431.9 256.5L428.9 256.5ZM430.9 247.6L431.3 246.3L434.3 246.3L434.3 249.3L433.9 250.6L430.9 250.6ZM432.9 241.7L433.3 240.5L436.3 240.5L436.3 243.5L435.9 244.7L432.9 244.7ZM434.9 235.8L435.3 234.6L438.3 234.6L438.3 237.6L437.9 238.8L434.9 238.8ZM436.9 230.0L437.3 228.7L440.3 228.7L440.3 231.7L439.9 233.0L436.9 233.0ZM438.9 224.1L439.3 222.9L442.3 222.9L442.3 225.9L441.9 227.1L438.9 227.1ZM440.9 218.2L441.3 217.0L444.3 217.0L444.3 220.0L443.9 221.2L440.9 221.2ZM442.8 212.4L443.3 211.1L446.3 211.1L446.3 214.1L445.8 215.4L442.8 215.4ZM444.8 206.5L445.2 205.2L448.2 205.2L448.2 208.2L447.8 209.5L444.8 209.5ZM446.8 200.6L447.2 199.4L450.2 199.4L450.2 202.4L449.8 203.6L446.8 203.6ZM448.8 194.7L449.2 193.5L452.2 193.5L452.2 196.5L451.8 197.7L448.8 197.7ZM450.8 188.9L451.2 187.6L454.2 187.6L454.2 190.6L453.8 191.9L450.8 191.9ZM452.8 183.0L453.2 181.8L456.2 181.8L456.2 184.8L455.8 186.0L452.8 186.0ZM454.8 177.1L455.2 175.9L458.2 175.9L458.2 178.9L457.8 180.1L454.8 180.1ZM456.8 171.3L457.2 170.0L460.2 170.0L460.2 173.0L459.8 174.3L456.8 174.3ZM458.8 165.4L459.2 164.2L462.2 164.2L462.2 167.2L461.8 168.4L458.8 168.4ZM460.8 159.5L461.2 158.3L464.2 158.3L464.2 161.3L463.8 162.5L460.8 162.5ZM462.8 153.6L463.2 152.4L466.2 152.4L466.2 155.4L465.8 156.6L462.8 156.6Z"/>
<path fill="#000" d="M380.3 386.5L380.8 385.3L383.8 385.3L383.8 388.3L383.3 389.5L380.3 389.5ZM382.9 379.6L383.4 378.4L386.4 378.4L386.4 381.4L385.9 382.6L382.9 382.6ZM385.5 372.7L386.0 371.4L389.0 371.4L389.0 374.4L388.5 375.7L385.5 375.7ZM388.1 365.7L388.6 364.5L391.6 364.5L391.6 367.5L391.1 368.7L388.1 368.7ZM390.8 358.8L391.2 357.6L394.2 357.6L394.2 360.6L393.8 361.8L390.8 361.8ZM393.4 351.9L393.9 350.7L396.9 350.7L396.9 353.7L396.4 354.9L393.4 354.9ZM396.0 345.0L396.5 343.8L399.5 343.8L399.5 346.8L399.0 348.0L396.0 348.0ZM398.6 338.1L399.1 336.8L402.1 336.8L402.1 339.8L401.6 341.1L398.6 341.1ZM401.2 331.1L401.7 329.9L404.7 329.9L404.7 332.9L404.2 334.1L401.2 334.1ZM403.9 324.2L404.3 323.0L407.3 323.0L407.3 326.0L406.9 327.2L403.9 327.2ZM406.5 317.3L406.9 316.1L409.9 316.1L409.9 319.1L409.5 320.3L406.5 320.3ZM409.1 310.4L409.6 309.1L412.6 309.1L412.6 312.1L412.1 313.4L409.1 313.4ZM411.7 303.4L412.2 302.2L415.2 302.2L415.2 305.2L414.7 306.4L411.7 306.4ZM414.3 296.5L414.8 295.3L417.8 295.3L417.8 298.3L417.3 299.5L414.3 299.5ZM416.9 289.6L417.4 288.4L420.4 288.4L420.4 291.4L419.9 292.6L416.9 292.6ZM419.6 282.7L420.0 281.5L423.0 281.5L423.0 284.5L422.6 285.7L419.6 285.7ZM422.2 275.8L422.6 274.5L425.6 274.5L425.6 277.5L425.2 278.8L422.2 278.8ZM424.8 268.8L425.3 267.6L428.3 267.6L428.3 270.6L427.8 271.8L424.8 271.8ZM427.4 261.9L427.9 260.7L430.9 260.7L430.9 263.7L430.4 264.9L427.4 264.9ZM430.0 255.0L430.5 253.8L433.5 253.8L433.5 256.8L433.0 258.0L430.0 258.0ZM432.6 248.1L433.1 246.8L436.1 246.8L436.1 249.8L435.6 251.1L432.6 251.1ZM435.3 241.2L435.7 239.9L438.7 239.9L438.7 242.9L438.3 244.2L435.3 244.2ZM437.9 234.2L438.3 233.0L441.3 233.0L441.3 236.0L440.9 237.2L437.9 237.2ZM440.5 227.3L441.0 226.1L444.0 226.1L444.0 229.1L443.5 230.3L440.5 230.3ZM443.1 220.4L443.6 219.2L446.6 219.2L446.6 222.2L446.1 223.4L443.1 223.4ZM445.7 213.5L446.2 212.2L449.2 212.2L449.2 215.2L448.7 216.5L445.7 216.5ZM448.4 206.5L448.8 205.3L451.8 205.3L451.8 208.3L451.4 209.5L448.4 209.5Z"/>
<path class="ax" d="M95.3 11.5V390.7H543"/>
<line class="tk" x1="85.8" y1="387.8" x2="95.3" y2="387.8"/>
<text x="80.9" y="395.3" font-size="21.8" text-anchor="end">0.0</text>
<line class="tk" x1="85.8" y1="312.7" x2="95.3" y2="312.7"/>
<text x="80.9" y="320.2" font-size="21.8" text-anchor="end">0.2</text>
<line class="tk" x1="85.8" y1="237.6" x2="95.3" y2="237.6"/>
<text x="80.9" y="245.1" font-size="21.8" text-anchor="end">0.4</text>
<line class="tk" x1="85.8" y1="162.5" x2="95.3" y2="162.5"/>
<text x="80.9" y="170.0" font-size="21.8" text-anchor="end">0.6</text>
<line class="tk" x1="85.8" y1="87.4" x2="95.3" y2="87.4"/>
<text x="80.9" y="94.9" font-size="21.8" text-anchor="end">0.8</text>
<line class="tk" x1="85.8" y1="12.3" x2="95.3" y2="12.3"/>
<text x="80.9" y="19.8" font-size="21.8" text-anchor="end">1.0</text>
<line class="tk" x1="108.76" y1="390.7" x2="108.76" y2="395.5"/>
<line class="tk" x1="124.23" y1="390.7" x2="124.23" y2="395.5"/>
<line class="tk" x1="139.70" y1="390.7" x2="139.70" y2="400.1"/>
<text x="139.7" y="425.5" font-size="22.4" text-anchor="middle">2.50</text>
<line class="tk" x1="155.17" y1="390.7" x2="155.17" y2="395.5"/>
<line class="tk" x1="170.64" y1="390.7" x2="170.64" y2="395.5"/>
<line class="tk" x1="186.11" y1="390.7" x2="186.11" y2="395.5"/>
<line class="tk" x1="201.58" y1="390.7" x2="201.58" y2="395.5"/>
<line class="tk" x1="217.05" y1="390.7" x2="217.05" y2="400.1"/>
<text x="217.0" y="425.5" font-size="22.4" text-anchor="middle">2.75</text>
<line class="tk" x1="232.52" y1="390.7" x2="232.52" y2="395.5"/>
<line class="tk" x1="247.99" y1="390.7" x2="247.99" y2="395.5"/>
<line class="tk" x1="263.46" y1="390.7" x2="263.46" y2="395.5"/>
<line class="tk" x1="278.93" y1="390.7" x2="278.93" y2="395.5"/>
<line class="tk" x1="294.40" y1="390.7" x2="294.40" y2="400.1"/>
<text x="294.4" y="425.5" font-size="22.4" text-anchor="middle">3.00</text>
<line class="tk" x1="309.87" y1="390.7" x2="309.87" y2="395.5"/>
<line class="tk" x1="325.34" y1="390.7" x2="325.34" y2="395.5"/>
<line class="tk" x1="340.81" y1="390.7" x2="340.81" y2="395.5"/>
<line class="tk" x1="356.28" y1="390.7" x2="356.28" y2="395.5"/>
<line class="tk" x1="371.75" y1="390.7" x2="371.75" y2="400.1"/>
<text x="371.8" y="425.5" font-size="22.4" text-anchor="middle">3.25</text>
<line class="tk" x1="387.22" y1="390.7" x2="387.22" y2="395.5"/>
<line class="tk" x1="402.69" y1="390.7" x2="402.69" y2="395.5"/>
<line class="tk" x1="418.16" y1="390.7" x2="418.16" y2="395.5"/>
<line class="tk" x1="433.63" y1="390.7" x2="433.63" y2="395.5"/>
<line class="tk" x1="449.10" y1="390.7" x2="449.10" y2="400.1"/>
<text x="449.1" y="425.5" font-size="22.4" text-anchor="middle">3.50</text>
<line class="tk" x1="464.57" y1="390.7" x2="464.57" y2="395.5"/>
<line class="tk" x1="480.04" y1="390.7" x2="480.04" y2="395.5"/>
<line class="tk" x1="495.51" y1="390.7" x2="495.51" y2="395.5"/>
<line class="tk" x1="510.98" y1="390.7" x2="510.98" y2="395.5"/>
<line class="tk" x1="526.45" y1="390.7" x2="526.45" y2="400.1"/>
<text x="526.5" y="425.5" font-size="22.4" text-anchor="middle">3.75</text>
<line class="tk" x1="541.92" y1="390.7" x2="541.92" y2="395.5"/>
<text x="307.5" y="456.3" font-size="22.7" text-anchor="middle">Photon energy (eV)</text>
<text transform="translate(30.1,254.5) rotate(-90)" font-size="20.8" letter-spacing="0.25">[F(R)*hν]<tspan dx="2.1" dy="-14.4" font-size="15.5" letter-spacing="0">1/2</tspan></text>
<rect x="111.3" y="17.1" width="139.7" height="103.4" fill="#fff" stroke="#1a1a1a" stroke-width="1.5"/>
<line x1="117.5" y1="32.5" x2="158.5" y2="32.5" stroke="#000" stroke-width="4.5"/>
<text x="168.4" y="39.1" font-size="22.1">undoped</text>
<line x1="117.5" y1="57.4" x2="158.5" y2="57.4" stroke="#f00" stroke-width="4.5"/>
<text x="168.4" y="64.0" font-size="22.1">0.1 mM</text>
<line x1="117.5" y1="82.3" x2="158.5" y2="82.3" stroke="#ff0ccc" stroke-width="4.5"/>
<text x="168.4" y="88.9" font-size="22.1">1.0 mM</text>
<line x1="117.5" y1="107.2" x2="158.5" y2="107.2" stroke="#00f" stroke-width="4.5"/>
<text x="168.4" y="113.8" font-size="22.1">10.0 mM</text>
</svg></body></html>
